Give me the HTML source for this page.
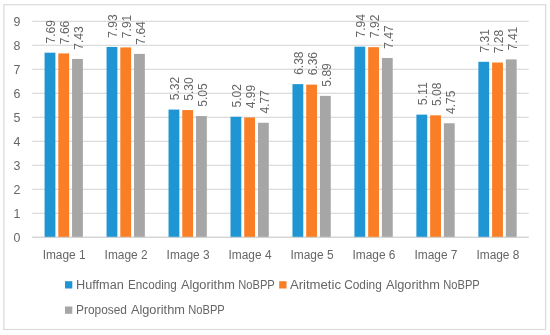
<!DOCTYPE html>
<html lang="en"><head><meta charset="utf-8"><title>NoBPP comparison chart</title>
<style>html,body{margin:0;padding:0;background:#fff;}body{width:550px;height:335px;overflow:hidden;}svg{display:block;}text{font-family:"Liberation Sans",sans-serif;fill:#666666;}</style>
</head><body>
<svg width="550" height="335" viewBox="0 0 550 335">
<rect x="0" y="0" width="550" height="335" fill="#ffffff"/>
<rect x="3.9" y="4.7" width="541.7" height="324.8" fill="#ffffff" stroke="#dcdcdc" stroke-width="1.3"/>
<line x1="32.30" y1="237.25" x2="528.70" y2="237.25" stroke="#d2d2d2" stroke-width="1"/>
<line x1="32.30" y1="213.25" x2="528.70" y2="213.25" stroke="#d2d2d2" stroke-width="1"/>
<line x1="32.30" y1="189.25" x2="528.70" y2="189.25" stroke="#d2d2d2" stroke-width="1"/>
<line x1="32.30" y1="165.25" x2="528.70" y2="165.25" stroke="#d2d2d2" stroke-width="1"/>
<line x1="32.30" y1="141.25" x2="528.70" y2="141.25" stroke="#d2d2d2" stroke-width="1"/>
<line x1="32.30" y1="117.25" x2="528.70" y2="117.25" stroke="#d2d2d2" stroke-width="1"/>
<line x1="32.30" y1="93.25" x2="528.70" y2="93.25" stroke="#d2d2d2" stroke-width="1"/>
<line x1="32.30" y1="69.25" x2="528.70" y2="69.25" stroke="#d2d2d2" stroke-width="1"/>
<line x1="32.30" y1="45.25" x2="528.70" y2="45.25" stroke="#d2d2d2" stroke-width="1"/>
<line x1="32.30" y1="21.25" x2="528.70" y2="21.25" stroke="#d2d2d2" stroke-width="1"/>
<text x="20.5" y="241.60" font-size="12.4" text-anchor="end">0</text>
<text x="20.5" y="217.60" font-size="12.4" text-anchor="end">1</text>
<text x="20.5" y="193.60" font-size="12.4" text-anchor="end">2</text>
<text x="20.5" y="169.60" font-size="12.4" text-anchor="end">3</text>
<text x="20.5" y="145.60" font-size="12.4" text-anchor="end">4</text>
<text x="20.5" y="121.60" font-size="12.4" text-anchor="end">5</text>
<text x="20.5" y="97.60" font-size="12.4" text-anchor="end">6</text>
<text x="20.5" y="73.60" font-size="12.4" text-anchor="end">7</text>
<text x="20.5" y="49.60" font-size="12.4" text-anchor="end">8</text>
<text x="20.5" y="25.60" font-size="12.4" text-anchor="end">9</text>
<rect x="44.58" y="52.69" width="10.82" height="184.56" fill="#1f96d3"/>
<rect x="58.33" y="53.41" width="10.82" height="183.84" fill="#fa7e25"/>
<rect x="72.06" y="58.93" width="10.82" height="178.32" fill="#a6a6a6"/>
<rect x="106.56" y="46.93" width="10.82" height="190.32" fill="#1f96d3"/>
<rect x="120.30" y="47.41" width="10.82" height="189.84" fill="#fa7e25"/>
<rect x="134.03" y="53.89" width="10.82" height="183.36" fill="#a6a6a6"/>
<rect x="168.53" y="109.57" width="10.82" height="127.68" fill="#1f96d3"/>
<rect x="182.27" y="110.05" width="10.82" height="127.20" fill="#fa7e25"/>
<rect x="196.01" y="116.05" width="10.82" height="121.20" fill="#a6a6a6"/>
<rect x="230.49" y="116.77" width="10.82" height="120.48" fill="#1f96d3"/>
<rect x="244.23" y="117.49" width="10.82" height="119.76" fill="#fa7e25"/>
<rect x="257.97" y="122.77" width="10.82" height="114.48" fill="#a6a6a6"/>
<rect x="292.46" y="84.13" width="10.82" height="153.12" fill="#1f96d3"/>
<rect x="306.20" y="84.61" width="10.82" height="152.64" fill="#fa7e25"/>
<rect x="319.94" y="95.89" width="10.82" height="141.36" fill="#a6a6a6"/>
<rect x="354.43" y="46.69" width="10.82" height="190.56" fill="#1f96d3"/>
<rect x="368.17" y="47.17" width="10.82" height="190.08" fill="#fa7e25"/>
<rect x="381.91" y="57.97" width="10.82" height="179.28" fill="#a6a6a6"/>
<rect x="416.40" y="114.61" width="10.82" height="122.64" fill="#1f96d3"/>
<rect x="430.14" y="115.33" width="10.82" height="121.92" fill="#fa7e25"/>
<rect x="443.88" y="123.25" width="10.82" height="114.00" fill="#a6a6a6"/>
<rect x="478.37" y="61.81" width="10.82" height="175.44" fill="#1f96d3"/>
<rect x="492.11" y="62.53" width="10.82" height="174.72" fill="#fa7e25"/>
<rect x="505.85" y="59.41" width="10.82" height="177.84" fill="#a6a6a6"/>
<line x1="32.30" y1="237.25" x2="528.70" y2="237.25" stroke="#d2d2d2" stroke-width="1"/>
<text transform="translate(55.29 31.74) rotate(-90)" font-size="12.4" text-anchor="middle" textLength="23.4" lengthAdjust="spacingAndGlyphs">7.69</text>
<text transform="translate(69.04 32.46) rotate(-90)" font-size="12.4" text-anchor="middle" textLength="23.4" lengthAdjust="spacingAndGlyphs">7.66</text>
<text transform="translate(82.78 37.98) rotate(-90)" font-size="12.4" text-anchor="middle" textLength="23.4" lengthAdjust="spacingAndGlyphs">7.43</text>
<text transform="translate(117.27 25.98) rotate(-90)" font-size="12.4" text-anchor="middle" textLength="23.4" lengthAdjust="spacingAndGlyphs">7.93</text>
<text transform="translate(131.00 26.46) rotate(-90)" font-size="12.4" text-anchor="middle" textLength="23.4" lengthAdjust="spacingAndGlyphs">7.91</text>
<text transform="translate(144.75 32.94) rotate(-90)" font-size="12.4" text-anchor="middle" textLength="23.4" lengthAdjust="spacingAndGlyphs">7.64</text>
<text transform="translate(179.24 88.62) rotate(-90)" font-size="12.4" text-anchor="middle" textLength="23.4" lengthAdjust="spacingAndGlyphs">5.32</text>
<text transform="translate(192.98 89.10) rotate(-90)" font-size="12.4" text-anchor="middle" textLength="23.4" lengthAdjust="spacingAndGlyphs">5.30</text>
<text transform="translate(206.72 95.10) rotate(-90)" font-size="12.4" text-anchor="middle" textLength="23.4" lengthAdjust="spacingAndGlyphs">5.05</text>
<text transform="translate(241.20 95.82) rotate(-90)" font-size="12.4" text-anchor="middle" textLength="23.4" lengthAdjust="spacingAndGlyphs">5.02</text>
<text transform="translate(254.94 96.54) rotate(-90)" font-size="12.4" text-anchor="middle" textLength="23.4" lengthAdjust="spacingAndGlyphs">4.99</text>
<text transform="translate(268.68 101.82) rotate(-90)" font-size="12.4" text-anchor="middle" textLength="23.4" lengthAdjust="spacingAndGlyphs">4.77</text>
<text transform="translate(303.17 63.18) rotate(-90)" font-size="12.4" text-anchor="middle" textLength="23.4" lengthAdjust="spacingAndGlyphs">6.38</text>
<text transform="translate(316.91 63.66) rotate(-90)" font-size="12.4" text-anchor="middle" textLength="23.4" lengthAdjust="spacingAndGlyphs">6.36</text>
<text transform="translate(330.65 74.94) rotate(-90)" font-size="12.4" text-anchor="middle" textLength="23.4" lengthAdjust="spacingAndGlyphs">5.89</text>
<text transform="translate(365.14 25.74) rotate(-90)" font-size="12.4" text-anchor="middle" textLength="23.4" lengthAdjust="spacingAndGlyphs">7.94</text>
<text transform="translate(378.88 26.22) rotate(-90)" font-size="12.4" text-anchor="middle" textLength="23.4" lengthAdjust="spacingAndGlyphs">7.92</text>
<text transform="translate(392.62 37.02) rotate(-90)" font-size="12.4" text-anchor="middle" textLength="23.4" lengthAdjust="spacingAndGlyphs">7.47</text>
<text transform="translate(427.11 93.66) rotate(-90)" font-size="12.4" text-anchor="middle" textLength="23.4" lengthAdjust="spacingAndGlyphs">5.11</text>
<text transform="translate(440.85 94.38) rotate(-90)" font-size="12.4" text-anchor="middle" textLength="23.4" lengthAdjust="spacingAndGlyphs">5.08</text>
<text transform="translate(454.59 102.30) rotate(-90)" font-size="12.4" text-anchor="middle" textLength="23.4" lengthAdjust="spacingAndGlyphs">4.75</text>
<text transform="translate(489.08 40.86) rotate(-90)" font-size="12.4" text-anchor="middle" textLength="23.4" lengthAdjust="spacingAndGlyphs">7.31</text>
<text transform="translate(502.82 41.58) rotate(-90)" font-size="12.4" text-anchor="middle" textLength="23.4" lengthAdjust="spacingAndGlyphs">7.28</text>
<text transform="translate(516.56 38.46) rotate(-90)" font-size="12.4" text-anchor="middle" textLength="23.4" lengthAdjust="spacingAndGlyphs">7.41</text>
<text x="64.14" y="258.6" font-size="12" text-anchor="middle" textLength="43.0" lengthAdjust="spacingAndGlyphs">Image 1</text>
<text x="126.11" y="258.6" font-size="12" text-anchor="middle" textLength="43.0" lengthAdjust="spacingAndGlyphs">Image 2</text>
<text x="188.08" y="258.6" font-size="12" text-anchor="middle" textLength="43.0" lengthAdjust="spacingAndGlyphs">Image 3</text>
<text x="250.04" y="258.6" font-size="12" text-anchor="middle" textLength="43.0" lengthAdjust="spacingAndGlyphs">Image 4</text>
<text x="312.01" y="258.6" font-size="12" text-anchor="middle" textLength="43.0" lengthAdjust="spacingAndGlyphs">Image 5</text>
<text x="373.98" y="258.6" font-size="12" text-anchor="middle" textLength="43.0" lengthAdjust="spacingAndGlyphs">Image 6</text>
<text x="435.95" y="258.6" font-size="12" text-anchor="middle" textLength="43.0" lengthAdjust="spacingAndGlyphs">Image 7</text>
<text x="497.92" y="258.6" font-size="12" text-anchor="middle" textLength="43.0" lengthAdjust="spacingAndGlyphs">Image 8</text>
<rect x="65.0" y="281.2" width="7.3" height="7.3" fill="#1f96d3"/>
<rect x="279.2" y="281.2" width="7.3" height="7.3" fill="#fa7e25"/>
<rect x="65.0" y="306.5" width="7.3" height="7.3" fill="#a6a6a6"/>
<text x="76.02" y="288.80" font-size="12.3" textLength="47.78" lengthAdjust="spacingAndGlyphs">Huffman</text>
<text x="128.02" y="288.80" font-size="12.3" textLength="48.78" lengthAdjust="spacingAndGlyphs">Encoding</text>
<text x="180.90" y="288.80" font-size="12.3" textLength="54.03" lengthAdjust="spacingAndGlyphs">Algorithm</text>
<text x="238.20" y="288.80" font-size="12.3" textLength="36.60" lengthAdjust="spacingAndGlyphs">NoBPP</text>
<text x="289.90" y="288.80" font-size="12.3" textLength="51.08" lengthAdjust="spacingAndGlyphs">Aritmetic</text>
<text x="344.20" y="288.80" font-size="12.3" textLength="37.60" lengthAdjust="spacingAndGlyphs">Coding</text>
<text x="385.90" y="288.80" font-size="12.3" textLength="54.03" lengthAdjust="spacingAndGlyphs">Algorithm</text>
<text x="443.20" y="288.80" font-size="12.3" textLength="36.60" lengthAdjust="spacingAndGlyphs">NoBPP</text>
<text x="76.02" y="314.20" font-size="12.3" textLength="50.97" lengthAdjust="spacingAndGlyphs">Proposed</text>
<text x="130.90" y="314.20" font-size="12.3" textLength="54.03" lengthAdjust="spacingAndGlyphs">Algorithm</text>
<text x="188.20" y="314.20" font-size="12.3" textLength="36.60" lengthAdjust="spacingAndGlyphs">NoBPP</text>
</svg>
</body></html>
